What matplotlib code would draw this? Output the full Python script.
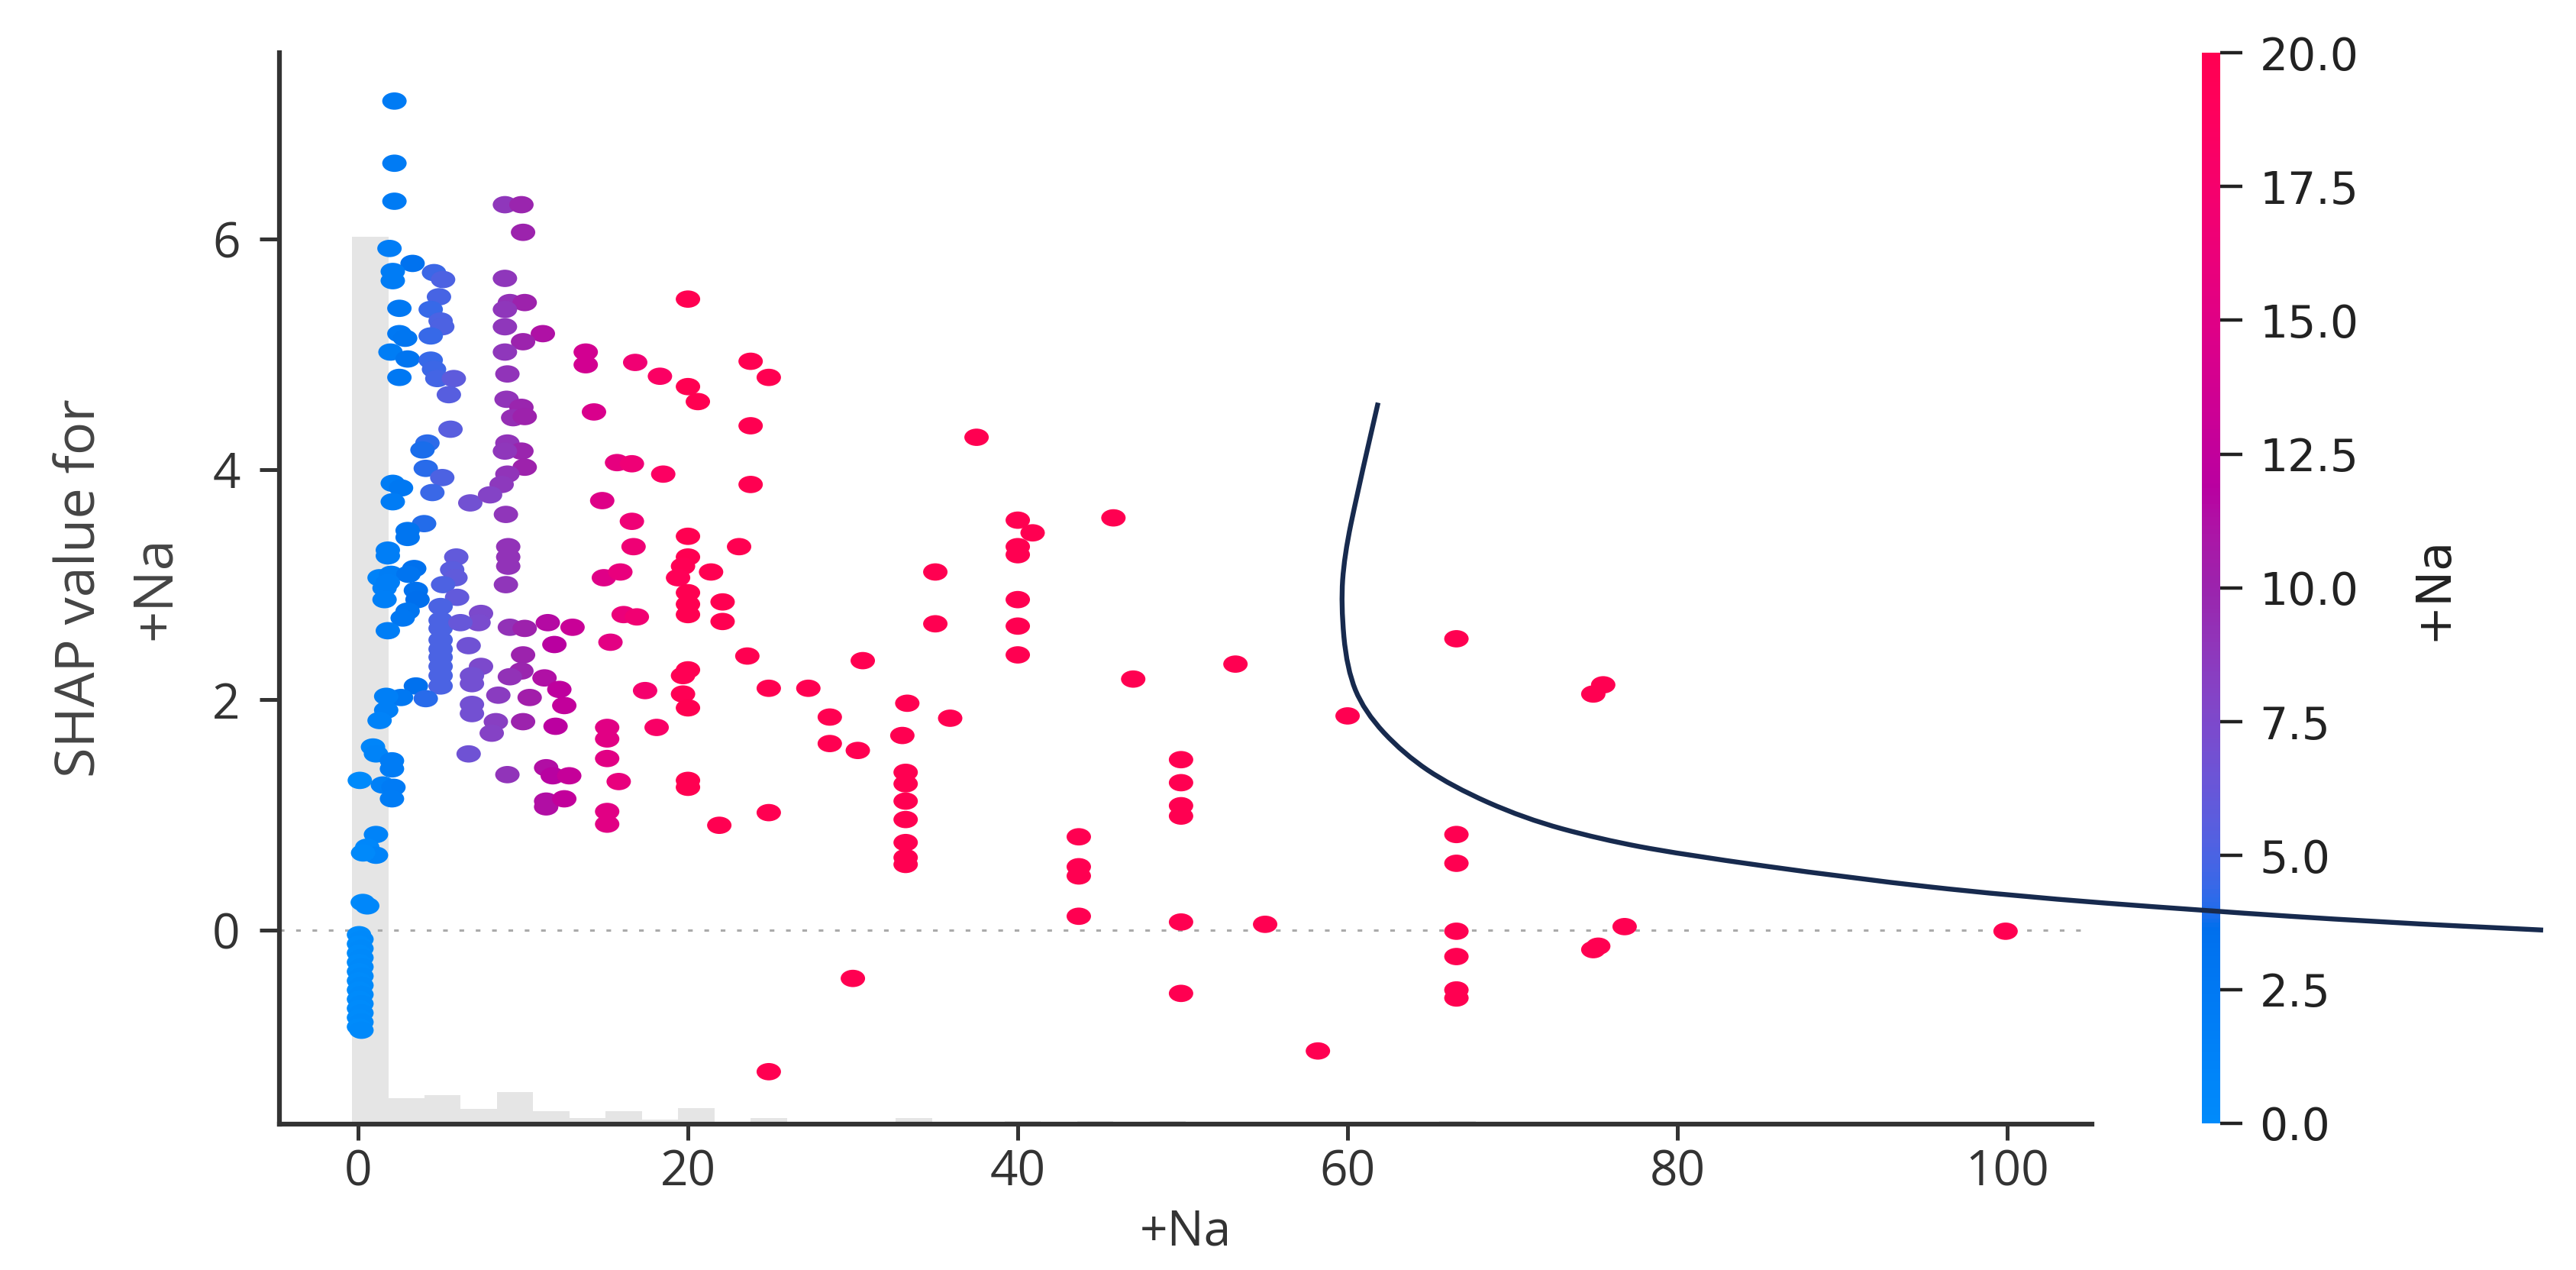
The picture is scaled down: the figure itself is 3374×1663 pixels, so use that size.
import numpy as np
import matplotlib
matplotlib.use("Agg")
import matplotlib.pyplot as plt
from matplotlib.colors import LinearSegmentedColormap
from matplotlib.path import Path
from matplotlib.patches import PathPatch

# --- data: (+Na value, SHAP value) ---
blue_pts = [(2.2, 7.2), (2.2, 6.66), (2.2, 6.33), (1.9, 5.92), (3.3, 5.79), (2.1, 5.72), (2.1, 5.64),
            (4.6, 5.71), (5.15, 5.65), (4.9, 5.50), (4.4, 5.39), (5.0, 5.29), (5.1, 5.24), (4.4, 5.16),
            (2.5, 5.40), (2.5, 5.18), (2.85, 5.14), (1.96, 5.02), (3.0, 4.96), (2.5, 4.80), (4.4, 4.95),
            (4.6, 4.87), (4.8, 4.79), (5.8, 4.79), (5.5, 4.65), (5.6, 4.35), (4.2, 4.23), (3.9, 4.17),
            (4.1, 4.01), (5.1, 3.93), (2.1, 3.88), (2.6, 3.84), (4.5, 3.80), (2.1, 3.72), (6.8, 3.71),
            (4.0, 3.53), (3.0, 3.47), (3.0, 3.41), (1.8, 3.30), (1.8, 3.25), (1.3, 3.06), (1.6, 2.97),
            (1.6, 2.87), (2.0, 3.09), (3.4, 3.14), (3.05, 3.09), (1.8, 3.02), (3.5, 2.95), (3.6, 2.87),
            (3.0, 2.77), (2.7, 2.71), (1.8, 2.60), (5.95, 3.24), (5.7, 3.13), (5.9, 3.06), (5.15, 3.00),
            (6.0, 2.89), (5.0, 2.81), (5.0, 2.69), (5.0, 2.62), (5.0, 2.52), (5.0, 2.44), (5.0, 2.37),
            (5.0, 2.29), (5.0, 2.21), (5.0, 2.12), (3.5, 2.12), (2.6, 2.02), (4.1, 2.01), (1.7, 2.03),
            (1.7, 1.91), (1.3, 1.82), (7.45, 2.75), (7.3, 2.67), (6.2, 2.67), (6.7, 2.47), (7.45, 2.29),
            (6.9, 2.21), (6.9, 2.14), (6.9, 1.96), (6.9, 1.88), (8.35, 1.81), (8.1, 1.71), (6.7, 1.53),
            (0.9, 1.59), (1.08, 1.53), (2.05, 1.47), (2.05, 1.40), (0.1, 1.30), (1.5, 1.26), (2.14, 1.24),
            (2.05, 1.14), (1.08, 0.83), (0.55, 0.72), (1.08, 0.65), (0.3, 0.67), (0.28, 0.24), (0.55, 0.21)]

zero_na = [0.05, 0.2, 0.05, 0.2, 0.05, 0.2, 0.05, 0.2, 0.05, 0.2, 0.05,
           0.2, 0.05, 0.2, 0.05, 0.2, 0.05, 0.2, 0.05, 0.2, 0.05, 0.2]
zero_shap = [-0.04, -0.08, -0.12, -0.16, -0.20, -0.24, -0.28, -0.32, -0.36, -0.40, -0.44,
             -0.48, -0.52, -0.56, -0.60, -0.64, -0.68, -0.72, -0.76, -0.80, -0.84, -0.87]

purple_pts = [(8.9, 6.30), (9.9, 6.30), (10.0, 6.06), (8.9, 5.66), (9.2, 5.45), (10.1, 5.45), (8.9, 5.39),
              (8.9, 5.24), (11.2, 5.18), (10.0, 5.11), (8.9, 5.02), (9.05, 4.83), (9.0, 4.61), (9.9, 4.54),
              (9.4, 4.45), (10.1, 4.46), (9.05, 4.23), (9.9, 4.16), (8.9, 4.16), (10.1, 4.02), (9.05, 3.96),
              (8.7, 3.87), (8.0, 3.78), (8.96, 3.61), (9.1, 3.33), (9.1, 3.24), (9.1, 3.16), (8.96, 3.00),
              (9.2, 2.63), (10.1, 2.62), (11.5, 2.67), (13.0, 2.63), (11.9, 2.48), (10.0, 2.39), (9.9, 2.25),
              (9.2, 2.20), (11.3, 2.19), (12.2, 2.09), (8.5, 2.04), (10.4, 2.02), (12.5, 1.95), (10.0, 1.81),
              (11.97, 1.77), (9.05, 1.35), (11.4, 1.41), (11.8, 1.34), (12.8, 1.34), (11.4, 1.12),
              (11.4, 1.07), (12.5, 1.14)]

red_pts = [(13.8, 5.02), (13.8, 4.91), (16.8, 4.93), (18.3, 4.81), (20.0, 5.48), (20.0, 4.72), (20.6, 4.59),
           (14.3, 4.50), (15.7, 4.06), (16.6, 4.05), (18.5, 3.96), (14.8, 3.73), (16.6, 3.55), (16.7, 3.33),
           (14.9, 3.06), (15.9, 3.11), (20.0, 3.42), (20.0, 3.24), (19.7, 3.16), (19.4, 3.06), (21.4, 3.11),
           (20.0, 2.93), (20.0, 2.83), (20.0, 2.74), (22.1, 2.85), (22.1, 2.68), (23.1, 3.33), (16.1, 2.74),
           (16.9, 2.72), (15.3, 2.50), (20.0, 2.26), (19.7, 2.21), (19.7, 2.05), (20.0, 1.93), (17.4, 2.08),
           (18.1, 1.76), (20.0, 1.30), (20.0, 1.24), (21.9, 0.91), (15.1, 1.76), (15.1, 1.66), (15.1, 1.49),
           (15.8, 1.29), (15.1, 1.03), (15.1, 0.92)]

far_pts = [(23.8, 4.94), (24.9, 4.80), (23.8, 4.38), (23.8, 3.87), (37.5, 4.28), (40.0, 3.56), (40.9, 3.45),
           (40.0, 3.33), (40.0, 3.26), (45.8, 3.58), (35.0, 3.11), (40.0, 2.87), (40.0, 2.64), (40.0, 2.39),
           (35.0, 2.66), (23.6, 2.38), (24.9, 2.10), (27.3, 2.10), (30.6, 2.34), (28.6, 1.85), (28.6, 1.62),
           (30.3, 1.56), (33.3, 1.97), (33.0, 1.69), (35.9, 1.84), (47.0, 2.18), (33.2, 1.37), (33.2, 1.27),
           (33.2, 1.12), (33.2, 0.96), (33.2, 0.76), (33.2, 0.63), (33.2, 0.57), (24.9, 1.02), (43.7, 0.81),
           (43.7, 0.55), (43.7, 0.47), (43.7, 0.12), (49.9, 1.48), (49.9, 1.28), (49.9, 1.08), (49.9, 0.99),
           (49.9, 0.07), (49.9, -0.55), (30.0, -0.42), (24.9, -1.23), (53.2, 2.31), (60.0, 1.86),
           (66.6, 2.53), (74.9, 2.05), (75.5, 2.13), (55.0, 0.05), (66.6, 0.83), (66.6, 0.58), (66.6, -0.01),
           (66.6, -0.23), (66.6, -0.52), (66.6, -0.59), (76.8, 0.03), (74.9, -0.17), (75.2, -0.14),
           (58.2, -1.05), (99.9, -0.01)]

# histogram of +Na (50 bins over the x range), out of n_samples rows
n_samples = 1000
hist_counts = [0, 0, 828, 24, 27, 14, 30, 12, 6, 12,
               4, 15, 0, 6, 1, 2, 0, 6, 2, 1,
               3, 0, 3, 1, 3, 0, 1, 1, 1, 1,
               0, 0, 3, 0, 0, 0, 2, 1, 0, 0,
               0, 0, 0, 0, 0, 0, 0, 1, 0, 0]

x_ticks = [0, 20, 40, 60, 80, 100]
y_ticks = [0, 2, 4, 6]
cbar_ticks = [0, 2.5, 5, 7.5, 10, 12.5, 15, 17.5, 20]

# hand-drawn annotation curve (anchor points, data coords)
curve_x = [61.85, 60.6, 59.8, 59.6, 59.95, 61.0, 63.4, 66.3, 70.7, 75.3, 80.1, 90.6, 100.0, 111.8, 122.5, 132.5]
curve_y = [4.58, 3.80, 3.25, 2.83, 2.27, 1.90, 1.53, 1.25, 0.97, 0.79, 0.66, 0.45, 0.30, 0.17, 0.07, 0.0]


# shap-style red/blue colormap (LCH interpolation)
def lch_to_rgb(l, c, h):
    a = c * np.cos(h)
    b = c * np.sin(h)
    fy = (l + 16) / 116
    fx = fy + a / 500
    fz = fy - b / 200
    finv = lambda t: np.where(t > 6 / 29, t ** 3, 3 * (6 / 29) ** 2 * (t - 4 / 29))
    xyz = np.stack([0.95047 * finv(fx), finv(fy), 1.08883 * finv(fz)], axis=-1)
    m = np.array([[3.2406, -1.5372, -0.4986], [-0.9689, 1.8758, 0.0415], [0.0557, -0.2040, 1.0570]])
    rgb = xyz @ m.T
    rgb = np.where(rgb > 0.0031308, 1.055 * np.abs(rgb) ** (1 / 2.4) - 0.055, 12.92 * rgb)
    return np.clip(rgb, 0, 1)


nsteps = 100
l_vals = np.concatenate([np.linspace(54, 40, nsteps // 2), np.linspace(40, 54, nsteps // 2)])
c_vals = np.linspace(70, 90, nsteps)
h_vals = np.linspace(4.6588, 0.35470565 + 2 * np.pi, nsteps)
red_blue = LinearSegmentedColormap.from_list("red_blue", lch_to_rgb(l_vals, c_vals, h_vals))

pts = blue_pts + purple_pts + red_pts + far_pts
na = np.array([p[0] for p in pts] + zero_na)
shap_vals = np.array([p[1] for p in pts] + zero_shap)

axis_color = "#333333"
main_font = "Open Sans"

fig = plt.figure(figsize=(33.74, 16.63), dpi=100)
ax = fig.add_axes([0.1085, 0.1149, 0.7036, 0.8436])
cax = fig.add_axes([0.8548, 0.1155, 0.0071, 0.843])

xlim = (-4.77, 105.14)
ylim = (-1.685, 7.62)

# histogram on a twin axis, behind the dots
ax2 = ax.twinx()
edges = np.linspace(xlim[0], xlim[1], len(hist_counts) + 1)
ax2.stairs(hist_counts, edges, fill=True, color="#000000", alpha=0.1, linewidth=0)
ax2.set_ylim(0, n_samples)
ax2.set_yticks([])
for s in ax2.spines.values():
    s.set_visible(False)
ax.set_zorder(ax2.get_zorder() + 1)
ax.patch.set_visible(False)

ax.axhline(0, color="#aaaaaa", lw=2.2, dashes=(2, 5), zorder=-1)

circ = Path.unit_circle()
dot = Path(circ.vertices * [1.0, 0.71], circ.codes)
sc = ax.scatter(na, shap_vals, c=na, cmap=red_blue, vmin=0, vmax=20, s=530,
                marker=dot, linewidths=0, zorder=3)

ax.set_xlim(xlim)
ax.set_ylim(ylim)
ax.set_xticks(x_ticks)
ax.set_yticks(y_ticks)
ax.set_xticklabels([str(t) for t in x_ticks], fontfamily=main_font)
ax.set_yticklabels([str(t) for t in y_ticks], fontfamily=main_font)
ax.spines["top"].set_visible(False)
ax.spines["right"].set_visible(False)
for side in ["left", "bottom"]:
    ax.spines[side].set_color(axis_color)
    ax.spines[side].set_linewidth(4.5)
ax.tick_params(axis="x", length=15, width=3.6, pad=8, labelsize=46, color=axis_color, labelcolor=axis_color)
ax.tick_params(axis="y", length=19, width=3.6, pad=18, labelsize=46, color=axis_color, labelcolor=axis_color)

ax.set_xlabel("+Na", fontsize=46, fontfamily=main_font, color=axis_color)
ax.xaxis.set_label_coords(0.5, -0.078)
ax.set_ylabel("SHAP value for\n+Na", fontsize=52, fontfamily=main_font, color="#444444", linespacing=1.5)
ax.yaxis.set_label_coords(-0.053, 0.5)

cb = fig.colorbar(sc, cax=cax, ticks=cbar_ticks)
cb.outline.set_visible(False)
cb.ax.set_yticklabels(["%.1f" % t for t in cbar_ticks])
cb.ax.tick_params(length=21, width=3.2, pad=16, labelsize=42, color="#222222", labelcolor="#222222")
cb.set_label("+Na", fontsize=45, color="#222222")
cb.ax.yaxis.set_label_coords(11.4, 0.5)

# annotation curve, smooth through the anchor points, drawn above everything
p = np.column_stack([curve_x, curve_y])
verts = [p[0], (p[0] + p[1]) / 2]
codes = [Path.MOVETO, Path.LINETO]
for i in range(1, len(p) - 1):
    verts += [p[i], (p[i] + p[i + 1]) / 2]
    codes += [Path.CURVE3, Path.CURVE3]
verts.append(p[-1])
codes.append(Path.LINETO)
curve = PathPatch(Path(verts, codes), facecolor="none", edgecolor="#172a4e", lw=4.6,
                  transform=ax.transData, zorder=5, capstyle="butt")
fig.add_artist(curve)

fig.savefig("out.png", dpi=100, facecolor="white")
